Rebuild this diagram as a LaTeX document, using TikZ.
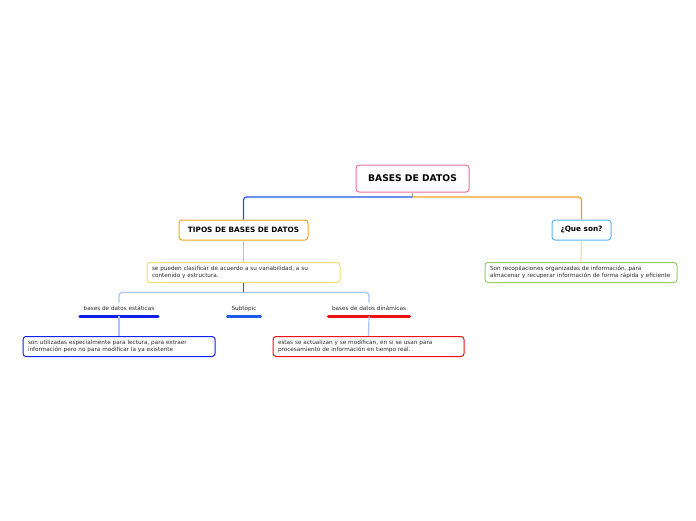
\documentclass[tikz,border=0pt]{standalone}
\usepackage{fontspec}
\setmainfont{DejaVu Sans}
\usetikzlibrary{positioning}

\definecolor{txtgray}{HTML}{2B2B2B}
\definecolor{rootpink}{HTML}{E8709A}
\definecolor{tiposorange}{HTML}{F5A623}
\definecolor{queblue}{HTML}{5AB4F0}
\definecolor{clasifyellow}{HTML}{EEE070}
\definecolor{recopgreen}{HTML}{9ACD60}
\definecolor{estblue}{HTML}{1020E8}
\definecolor{subblue}{HTML}{1F5AE8}
\definecolor{dinred}{HTML}{EE1111}
\definecolor{mainblue}{HTML}{1A56E8}
\definecolor{mainorange}{HTML}{F5A020}
\definecolor{paleblue}{HTML}{A8C4F8}
\definecolor{paleorange}{HTML}{FCD8A0}
\definecolor{stemtan}{HTML}{C8A078}

\begin{document}
\begin{tikzpicture}[x=1pt, y=-1pt,
	every node/.style={text=txtgray, font=\fontsize{5.7}{7.5}\selectfont},
	topbox/.style={draw, rounded corners=3pt, line width=1pt, fill=white, inner sep=0pt, text=black},
	notebox/.style={draw, rounded corners=3pt, line width=1pt, fill=white, align=left, inner xsep=5pt, inner ysep=0pt, minimum height=20pt, text width=#1},
	sublabel/.style={inner xsep=0pt, inner ysep=4pt, text height=4.2pt, text depth=1.3pt},
	link/.style={line width=1.2pt, rounded corners=3pt}]
	
	\useasboundingbox (0,0) rectangle (696,520);
	
	%//root and first level
	
	\node (root) [topbox, draw=rootpink, minimum width=113pt, minimum height=27pt, font=\bfseries\fontsize{9.2}{11}\selectfont] at (412.5,178.5) {BASES DE DATOS};
	
	\node (tipos) [topbox, draw=tiposorange, minimum width=129pt, minimum height=20pt, font=\bfseries\fontsize{7.3}{9}\selectfont] at (243.5,230) {TIPOS DE BASES DE DATOS};
	
	\node (que) [topbox, draw=queblue, minimum width=59pt, minimum height=20pt, font=\bfseries\fontsize{7.3}{9}\selectfont] at (581.5,230) {¿Que son?};
	
	\coordinate (rootfork) at (412.5,197);
	
	\draw [link, stemtan] (root.south) -- (rootfork);
	\draw [link, mainblue] (rootfork) -| (tipos.north);
	\draw [link, mainorange] (rootfork) -| (que.north);
	
	%//notes under the first level
	
	\node (clasif) [notebox=183pt, draw=clasifyellow] at (243.5,272.5) {se pueden clasificar de acuerdo a su variabilidad, a su\\contenido y estructura.};
	
	\node (recop) [notebox=182pt, draw=recopgreen] at (581,272.5) {Son recopilaciones organizadas de información, para\\almacenar y recuperar información de forma rápida y eficiente};
	
	\draw [link, paleblue] (tipos.south) -- (clasif.north);
	\draw [link, paleorange] (que.south) -- (recop.north);
	
	%//subtopics
	
	\coordinate (subfork) at (243.5,292.5);
	\draw [link, subblue] (clasif.south) -- (subfork);
	
	\foreach \n/\x/\w/\c/\t in {est/119/81/estblue/bases de datos estáticas, sub/244/36/subblue/Subtopic, din/369/84/dinred/bases de datos dinámicas}
	{
		\node (\n) [sublabel, minimum width=\w pt] at (\x,309.5) {\t};
		\draw [line width=3pt, line cap=round, \c] ([xshift=1.5pt]\n.south west) -- ([xshift=-1.5pt]\n.south east);
	}
	
	\draw [link, paleblue] (subfork) -| (est.north);
	\draw [link, paleblue] (subfork) -| (din.north);
	
	%//notes under the subtopics
	
	\node (usadas) [notebox=182pt, draw=estblue] at (119,346.5) {son utilizadas especialmente para lectura, para extraer\\información pero no para modificar la ya existente};
	
	\node (actual) [notebox=181pt, draw=dinred] at (368.5,346.5) {estas se actualizan y se modifican, en si se usan para\\procesamiento de información en tiempo real.};
	
	\draw [link, paleblue] (est.south) -- (usadas.north);
	\draw [link, paleblue] (din.south) -- (actual.north);
	
\end{tikzpicture}
\end{document}
